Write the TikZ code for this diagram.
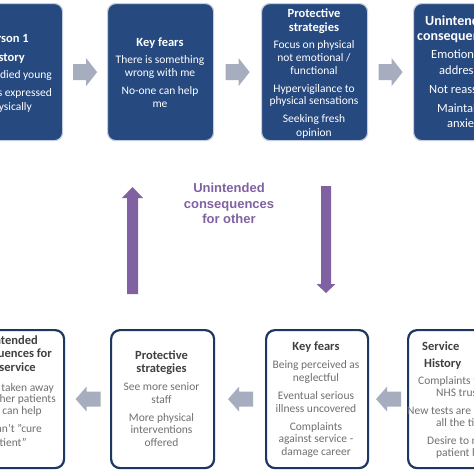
\documentclass[tikz,border=0pt]{standalone}
\usepackage{fontspec}
\setmainfont{Carlito}
\newfontfamily\arialfont{Liberation Sans}
\usetikzlibrary{calc}
\definecolor{topfill}{RGB}{38,73,128}
\definecolor{topedge}{RGB}{196,206,222}
\definecolor{botedge}{RGB}{30,54,98}
\definecolor{botbody}{RGB}{112,112,112}
\definecolor{bothead}{RGB}{64,64,64}
\definecolor{garrow}{RGB}{166,173,190}
\definecolor{parrow}{RGB}{128,98,162}
\newcommand\garrRight[1]{\fill[garr] #1 ++(-12,-8) -- ++(13,0) -- ++(0,-6) -- ++(11,14) -- ++(-11,14) -- ++(0,-6) -- ++(-13,0) -- cycle;}
\newcommand\garrLeft[1]{\fill[garr] #1 ++(13,-7.5) -- ++(-14,0) -- ++(0,-5) -- ++(-11,12.5) -- ++(11,12.5) -- ++(0,-5) -- ++(14,0) -- cycle;}
\begin{document}
\begin{tikzpicture}[x=1pt,y=-1pt,
  topbox/.style={fill=topfill,draw=topedge,line width=1.2pt,rounded corners=8pt,anchor=north west,minimum width=106pt,minimum height=137pt,inner sep=0pt},
  botbox/.style={fill=white,draw=botedge,line width=2.2pt,rounded corners=9pt,anchor=north west,minimum height=138pt,inner sep=0pt},
  tl/.style={text=white,inner sep=0pt,anchor=base,font=\fontsize{11.5}{13}\selectfont},
  th/.style={tl,font=\fontsize{12.5}{14}\selectfont\bfseries},
  bl/.style={text=botbody,inner sep=0pt,anchor=base,font=\fontsize{11.5}{13}\selectfont},
  bh/.style={bl,text=bothead,font=\fontsize{12.5}{14}\selectfont\bfseries},
  garr/.style={fill=garrow,draw=none},
  parr/.style={fill=parrow,draw=none},
  ptxt/.style={text=parrow,inner sep=0pt,anchor=base,font=\arialfont\fontsize{13}{15}\selectfont\bfseries}]
\useasboundingbox (0,0) rectangle (474,474);
\fill[white] (0,0) rectangle (474,474);
\clip (0,0) rectangle (474,474);

% ---------- top row ----------
\node[topbox] (T1) at (-44,3) {};
\node[topbox] (T2) at (107,3) {};
\node[topbox] (T3) at (261,3) {};
\node[topbox] (T4) at (413,3) {};

% T1 (clipped at left edge)
\node[th,anchor=base east] (t1h1) at (29,42) {Person 1};
\node[th,anchor=base east] (t1h2) at (25,61) {History};
\node[tl,anchor=base east] (t1b1) at (52,78) {Father died young};
\node[tl,anchor=base east] (t1b2) at (52,96) {Emotions expressed};
\node[tl,anchor=base east] (t1b3) at (32,110) {physically};

% T2
\node[th] (t2h) at (160,46) {Key fears};
\foreach \y/\t [count=\i] in {63/There is something, 76/wrong with me, 94/No-one can help, 107/me}
  \node[tl] (t2b\i) at (160,\y) {\t};

% T3
\node[th] (t3h1) at (314,17) {Protective};
\node[th] (t3h2) at (314,31) {strategies};
\foreach \y/\t [count=\i] in {48/Focus on physical, 61/{not emotional /}, 74/functional, 92/Hypervigilance to, 104/physical sensations, 122/Seeking fresh, 136/opinion}
  \node[tl] (t3b\i) at (314,\y) {\t};

% T4 (clipped at right edge)
\node[th,anchor=base west,font=\fontsize{14}{16}\selectfont\bfseries] (t4h1) at (425,25) {Unintended};
\node[th,anchor=base west,font=\fontsize{14}{16}\selectfont\bfseries] (t4h2) at (417,40) {consequences};
\foreach \x/\y/\t [count=\i] in {431/58/Emotions not, 439/74/addressed, 429/93/Not reassured, 437/112/Maintains, 447/127/anxiety}
  \node[tl,anchor=base west,font=\fontsize{12.5}{15}\selectfont] (t4b\i) at (\x,\y) {\t};

% top arrows
\garrRight{($(T1.east)!.5!(T2.west)$)}
\garrRight{($(T2.east)!.5!(T3.west)$)}
\garrRight{($(T3.east)!.5!(T4.west)$)}

% ---------- bottom row ----------
\node[botbox,minimum width=104pt] (B1) at (-41,329) {};
\node[botbox,minimum width=103pt] (B2) at (110,329) {};
\node[botbox,minimum width=102pt] (B3) at (265,329) {};
\node[botbox,minimum width=106pt] (B4) at (407,329) {};

% B1 (clipped at left edge)
\foreach \x/\y/\t [count=\i] in {38/344/Unintended, 52/357/consequences for, 36/371/service}
  \node[bh,anchor=base east] (b1h\i) at (\x,\y) {\t};
\foreach \x/\y/\t [count=\i] in {54/391/Time taken away, 56/402/from other patients, 42/414/who can help, 42/432/Can't "cure, 27/446/the patient"}
  \node[bl,anchor=base east] (b1b\i) at (\x,\y) {\t};

% B2
\node[bh] (b2h1) at (161.5,359) {Protective};
\node[bh] (b2h2) at (161.5,372) {strategies};
\foreach \y/\t [count=\i] in {390/See more senior, 403/staff, 421/More physical, 433/interventions, 446/offered}
  \node[bl] (b2b\i) at (161.5,\y) {\t};

% B3
\node[bh] (b3h) at (316,350) {Key fears};
\foreach \y/\t [count=\i] in {368/Being perceived as, 381/neglectful, 399/Eventual serious, 412/illness uncovered, 430/Complaints, 442/against service -, 455/damage career}
  \node[bl] (b3b\i) at (316,\y) {\t};

% B4 (clipped at right edge)
\node[bh,anchor=base west] (b4h1) at (422,350) {Service};
\node[bh,anchor=base west] (b4h2) at (424,367) {History};
\foreach \x/\y/\t [count=\i] in {418/384/Complaints to the, 436/396/NHS trust, 407/414/New tests are, 436/426/all the time, 427/444/Desire to make, 436/456/patient better}
  \node[bl,anchor=base west] (b4b\i) at (\x,\y) {\t};

% bottom arrows
\garrLeft{($(B1.east)!.5!(B2.west)$)}
\garrLeft{($(B2.east)!.5!(B3.west)$)}
\garrLeft{($(B3.east)!.5!(B4.west)$)}

% ---------- purple arrows and label ----------
\coordinate (upTip) at (132.5,187);
\coordinate (downTip) at (326,293);
\fill[parr] (upTip) -- ++(10.5,11) -- ++(-5,0) -- ++(0,96) -- ++(-11,0) -- ++(0,-96) -- ++(-5,0) -- cycle;
\fill[parr] (downTip) -- ++(9.5,-9) -- ++(-4.5,0) -- ++(0,-98) -- ++(-10,0) -- ++(0,98) -- ++(-4.5,0) -- cycle;
\node[ptxt] (pl1) at (229,192) {Unintended};
\node[ptxt] (pl2) at (229,208) {consequences};
\node[ptxt] (pl3) at (229,223) {for other};
\end{tikzpicture}
\end{document}
